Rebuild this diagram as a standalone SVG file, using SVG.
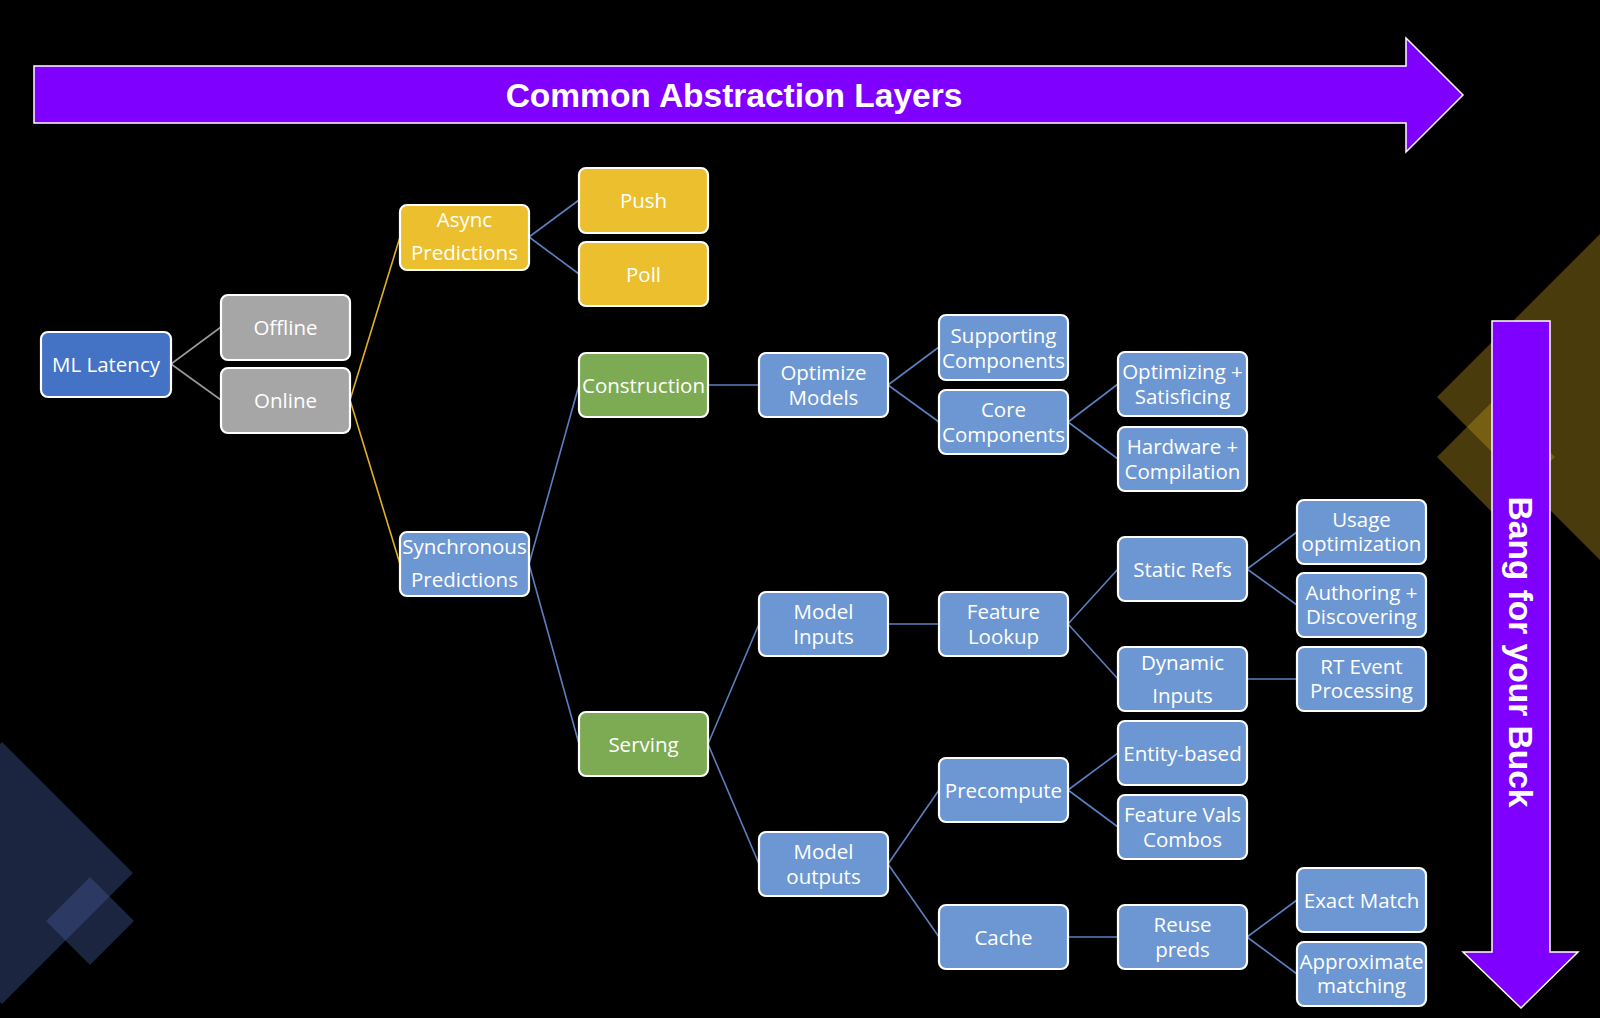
<svg xmlns="http://www.w3.org/2000/svg" width="1600" height="1018" viewBox="0 0 1600 1018">
<style>
.n rect{stroke:#ffffff;stroke-width:2.2}
.blue rect{fill:#6d97d2}
.dark rect{fill:#4472c4}
.gray rect{fill:#a6a6a6}
.gold rect{fill:#ecbf2f}
.green rect{fill:#7dab53}
.n text{font-family:"Open Sans","Liberation Sans",sans-serif;font-size:20.5px;fill:#ffffff;text-anchor:middle}
.c line{stroke-width:1.6;fill:none}
.cb line{stroke:#5b80c0}
.cg line{stroke:#9a9a9a}
.cy line{stroke:#e2b024}
.big{font-family:"Liberation Sans",Arial,sans-serif;font-weight:bold;font-size:33.5px;fill:#ffffff;text-anchor:middle}
.arrow{fill:#8000ff;stroke:#ffffff;stroke-width:1.5}
</style>
<rect x="0" y="0" width="1600" height="1018" fill="#000000"/>
<g id="decor">
<polygon points="1437,397 1700,134 1963,397 1700,660" fill="#c09a20" opacity="0.38"/>
<polygon points="1437,457 1496,398 1555,457 1496,516" fill="#c09a20" opacity="0.38"/>
<polygon points="-129,873 2,742 133,873 2,1004" fill="#3e528f" opacity="0.45"/>
<polygon points="46,921 90,877 134,921 90,965" fill="#3e528f" opacity="0.45"/>
</g>
<g id="arrow-top">
<polygon class="arrow" points="34,66 1406,66 1406,38 1463,95 1406,152 1406,123 34,123"/>
<text class="big" x="734" y="107">Common Abstraction Layers</text>
</g>
<g id="arrow-right">
<polygon class="arrow" points="1492,321 1550,321 1550,952 1578,952 1521,1008 1463,952 1492,952"/>
<text class="big" transform="translate(1521,652) rotate(90)" x="0" y="12">Bang for your Buck</text>
</g>
<g id="connectors" class="c">
<g class="cg">
<line x1="171" y1="364" x2="221" y2="327"/>
<line x1="171" y1="364" x2="221" y2="400"/>
</g>
<g class="cy">
<line x1="350" y1="400" x2="400" y2="237"/>
<line x1="350" y1="400" x2="400" y2="564"/>
</g>
<g class="cb">
<line x1="529" y1="237" x2="579" y2="200"/>
<line x1="529" y1="237" x2="579" y2="274"/>
<line x1="529" y1="564" x2="579" y2="385"/>
<line x1="529" y1="564" x2="579" y2="744"/>
<line x1="708" y1="385" x2="759" y2="385"/>
<line x1="888" y1="385" x2="939" y2="347"/>
<line x1="888" y1="385" x2="939" y2="422"/>
<line x1="1068" y1="422" x2="1118" y2="384"/>
<line x1="1068" y1="422" x2="1118" y2="459"/>
<line x1="708" y1="744" x2="759" y2="624"/>
<line x1="708" y1="744" x2="759" y2="864"/>
<line x1="888" y1="624" x2="939" y2="624"/>
<line x1="1068" y1="624" x2="1118" y2="569"/>
<line x1="1068" y1="624" x2="1118" y2="679"/>
<line x1="1247" y1="569" x2="1297" y2="532"/>
<line x1="1247" y1="569" x2="1297" y2="605"/>
<line x1="1247" y1="679" x2="1297" y2="679"/>
<line x1="888" y1="864" x2="939" y2="790"/>
<line x1="888" y1="864" x2="939" y2="937"/>
<line x1="1068" y1="790" x2="1118" y2="753"/>
<line x1="1068" y1="790" x2="1118" y2="827"/>
<line x1="1068" y1="937" x2="1118" y2="937"/>
<line x1="1247" y1="937" x2="1297" y2="900"/>
<line x1="1247" y1="937" x2="1297" y2="974"/>
</g>
</g>
<g id="ml-latency" class="n dark"><rect x="41" y="332" width="130" height="65" rx="7"/><text x="106" y="372">ML Latency</text></g>
<g id="offline" class="n gray"><rect x="221" y="295" width="129" height="65" rx="7"/><text x="285.5" y="335">Offline</text></g>
<g id="online" class="n gray"><rect x="221" y="368" width="129" height="65" rx="7"/><text x="285.5" y="408">Online</text></g>
<g id="async" class="n gold"><rect x="400" y="205" width="129" height="65" rx="7"/><text x="464.5" y="226.5">Async</text><text x="464.5" y="260">Predictions</text></g>
<g id="sync" class="n blue"><rect x="400" y="532" width="129" height="64" rx="7"/><text x="464.5" y="553.5">Synchronous</text><text x="464.5" y="587">Predictions</text></g>
<g id="push" class="n gold"><rect x="579" y="168" width="129" height="65" rx="7"/><text x="643.5" y="208">Push</text></g>
<g id="poll" class="n gold"><rect x="579" y="242" width="129" height="64" rx="7"/><text x="643.5" y="281.5">Poll</text></g>
<g id="construction" class="n green"><rect x="579" y="353" width="129" height="64" rx="7"/><text x="643.5" y="392.5">Construction</text></g>
<g id="serving" class="n green"><rect x="579" y="712" width="129" height="64" rx="7"/><text x="643.5" y="751.5">Serving</text></g>
<g id="optimize-models" class="n blue"><rect x="759" y="353" width="129" height="64" rx="7"/><text x="823.5" y="380">Optimize</text><text x="823.5" y="405">Models</text></g>
<g id="model-inputs" class="n blue"><rect x="759" y="592" width="129" height="64" rx="7"/><text x="823.5" y="619">Model</text><text x="823.5" y="643.5">Inputs</text></g>
<g id="model-outputs" class="n blue"><rect x="759" y="832" width="129" height="64" rx="7"/><text x="823.5" y="859">Model</text><text x="823.5" y="883.5">outputs</text></g>
<g id="supporting" class="n blue"><rect x="939" y="315" width="129" height="65" rx="7"/><text x="1003.5" y="343">Supporting</text><text x="1003.5" y="367.5">Components</text></g>
<g id="core" class="n blue"><rect x="939" y="390" width="129" height="64" rx="7"/><text x="1003.5" y="417">Core</text><text x="1003.5" y="441.5">Components</text></g>
<g id="feature-lookup" class="n blue"><rect x="939" y="592" width="129" height="64" rx="7"/><text x="1003.5" y="619">Feature</text><text x="1003.5" y="643.5">Lookup</text></g>
<g id="precompute" class="n blue"><rect x="939" y="758" width="129" height="64" rx="7"/><text x="1003.5" y="797.5">Precompute</text></g>
<g id="cache" class="n blue"><rect x="939" y="905" width="129" height="64" rx="7"/><text x="1003.5" y="944.5">Cache</text></g>
<g id="optimizing" class="n blue"><rect x="1118" y="352" width="129" height="64" rx="7"/><text x="1182.5" y="379">Optimizing +</text><text x="1182.5" y="403.5">Satisficing</text></g>
<g id="hardware" class="n blue"><rect x="1118" y="427" width="129" height="64" rx="7"/><text x="1182.5" y="454">Hardware +</text><text x="1182.5" y="478.5">Compilation</text></g>
<g id="static-refs" class="n blue"><rect x="1118" y="537" width="129" height="64" rx="7"/><text x="1182.5" y="576.5">Static Refs</text></g>
<g id="dynamic-inputs" class="n blue"><rect x="1118" y="647" width="129" height="64" rx="7"/><text x="1182.5" y="669.5">Dynamic</text><text x="1182.5" y="702.5">Inputs</text></g>
<g id="entity-based" class="n blue"><rect x="1118" y="721" width="129" height="64" rx="7"/><text x="1182.5" y="760.5">Entity-based</text></g>
<g id="feature-vals" class="n blue"><rect x="1118" y="795" width="129" height="64" rx="7"/><text x="1182.5" y="822">Feature Vals</text><text x="1182.5" y="846.5">Combos</text></g>
<g id="reuse-preds" class="n blue"><rect x="1118" y="905" width="129" height="64" rx="7"/><text x="1182.5" y="932">Reuse</text><text x="1182.5" y="956.5">preds</text></g>
<g id="usage" class="n blue"><rect x="1297" y="500" width="129" height="64" rx="7"/><text x="1361.5" y="527">Usage</text><text x="1361.5" y="551">optimization</text></g>
<g id="authoring" class="n blue"><rect x="1297" y="573" width="129" height="64" rx="7"/><text x="1361.5" y="600">Authoring +</text><text x="1361.5" y="624">Discovering</text></g>
<g id="rt-event" class="n blue"><rect x="1297" y="647" width="129" height="64" rx="7"/><text x="1361.5" y="674">RT Event</text><text x="1361.5" y="698">Processing</text></g>
<g id="exact-match" class="n blue"><rect x="1297" y="868" width="129" height="64" rx="7"/><text x="1361.5" y="907.5">Exact Match</text></g>
<g id="approx-matching" class="n blue"><rect x="1297" y="942" width="129" height="64" rx="7"/><text x="1361.5" y="969">Approximate</text><text x="1361.5" y="993">matching</text></g>
</svg>
